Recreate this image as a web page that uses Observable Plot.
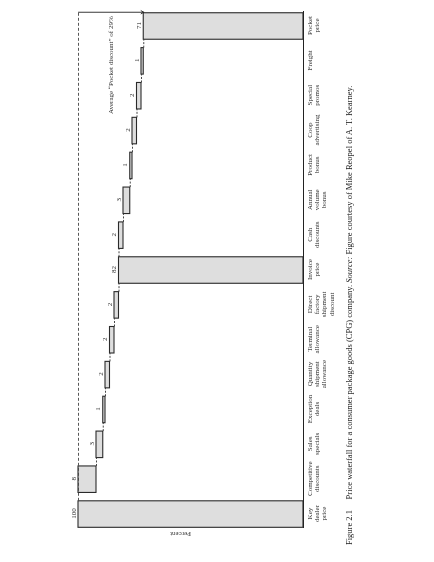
<!DOCTYPE html>
<html>
<head>
<meta charset="utf-8">
<script src="https://cdn.jsdelivr.net/npm/d3@7"></script>
<script src="https://cdn.jsdelivr.net/npm/@observablehq/plot@0.6"></script>
<style>
  html, body { margin: 0; padding: 0; background: #fff; overflow: hidden; }
  #page { position: absolute; left: 0; top: 0; width: 562px; height: 434px;
          transform-origin: 0 0; transform: translate(0, 562px) rotate(-90deg); background: #fff;
          will-change: transform; }
  #cap { font-family: "Liberation Serif", serif; font-size: 8.5px; color: #222;
         margin: 4px 0 0 17px; line-height: 10px; white-space: nowrap; }
  #cap i { font-style: italic; }
</style>
</head>
<body>
<div id="page">
  <div id="chart"></div>
  <div id="cap">Figure 2.1&emsp; Price waterfall for a consumer package goods (CPG) company. <i>Source:</i> Figure courtesy of Mike Reopel of A. T. Kearney.</div>
</div>
<script>
const categories = ["Key dealer price", "Competitive discounts", "Sales specials", "Exception deals",
  "Quantity shipment allowance", "Terminal allowance", "Direct factory shipment discount",
  "Invoice price", "Cash discounts", "Annual volume bonus", "Product bonus",
  "Coop advertising", "Special promos", "Freight", "Pocket price"];
const tickLabels = ["Key\ndealer\nprice", "Competitive\ndiscounts", "Sales\nspecials", "Exception\ndeals",
  "Quantity\nshipment\nallowance", "Terminal\nallowance", "Direct\nfactory\nshipment\ndiscount",
  "Invoice\nprice", "Cash\ndiscounts", "Annual\nvolume\nbonus", "Product\nbonus",
  "Coop\nadvertising", "Special\npromos", "Freight", "Pocket\nprice"];
const values = [100, 8, 3, 1, 2, 2, 2, 82, 2, 3, 1, 2, 2, 1, 71];
const kinds = ["total", "drop", "drop", "drop", "drop", "drop", "drop",
  "total", "drop", "drop", "drop", "drop", "drop", "drop", "total"];

// build waterfall table from the data
let level = 0;
const bars = categories.map((c, i) => {
  const v = values[i];
  let y1, y2;
  if (kinds[i] === "total") { y1 = 0; y2 = v; level = v; }
  else { y1 = level; y2 = level - v; level = level - v; }
  return {i, c, v, y1, y2, top: Math.max(y1, y2), end: level};
});
const hw = 0.38; // half bar width in band units
const start = values[0];
const pocket = bars[bars.length - 1];
const connectors = bars.slice(0, -1)
  .map(d => ({i: d.i, level: d.end}))
  .filter(d => d.level !== start);
const discount = start - pocket.v;

const chart = Plot.plot({
  width: 562,
  height: 340,
  marginLeft: 34,
  marginRight: 11,
  marginTop: 78,
  marginBottom: 37,
  style: {fontFamily: "Liberation Serif, serif", fontSize: "7px", color: "#222", background: "#fff"},
  x: {type: "linear", domain: [-0.40, 14.43]},
  y: {domain: [0, 100], axis: null},
  marks: [
    Plot.rect(bars, {x1: d => d.i - hw, x2: d => d.i + hw, y1: "y1", y2: "y2",
      fill: "#dedede", stroke: "#2a2a2a", strokeWidth: 1.1}),
    Plot.ruleY(connectors, {y: "level", x1: d => d.i + hw, x2: d => d.i + 1 - hw,
      stroke: "#333", strokeWidth: 0.9, strokeDasharray: "2,1.5"}),
    Plot.ruleY([start], {y: d => d, x1: () => hw, x2: () => pocket.i + hw,
      stroke: "#444", strokeWidth: 0.9, strokeDasharray: "3,2"}),
    Plot.arrow([pocket], {x1: d => d.i + hw, x2: d => d.i + hw, y1: () => start, y2: d => d.v,
      stroke: "#222", strokeWidth: 0.9, headLength: 5, insetEnd: 0}),
    Plot.text([pocket], {x: d => d.i + hw, y: d => (start + d.v) / 2,
      text: () => `Average \u201CPocket discount\u201D of ${discount}%`,
      textAnchor: "end", dx: -4, fontSize: 7, fill: "#333"}),
    Plot.text(bars, {x: "i", y: "top", text: d => String(d.v), lineAnchor: "bottom", dy: -3,
      fontSize: 7, fill: "#333"}),
    Plot.text(["Percent"], {text: d => d, frameAnchor: "left", rotate: -90, dx: -7, fontSize: 7, fill: "#333"}),
    Plot.ruleY([0], {stroke: "#222", strokeWidth: 1.1}),
    Plot.axisX({ticks: d3.range(categories.length), tickFormat: i => tickLabels[i],
      tickSize: 0, tickPadding: 3, fontSize: 7, lineHeight: 1.05, label: null, fill: "#333"})
  ]
});
document.getElementById("chart").appendChild(chart);
</script>
</body>
</html>
